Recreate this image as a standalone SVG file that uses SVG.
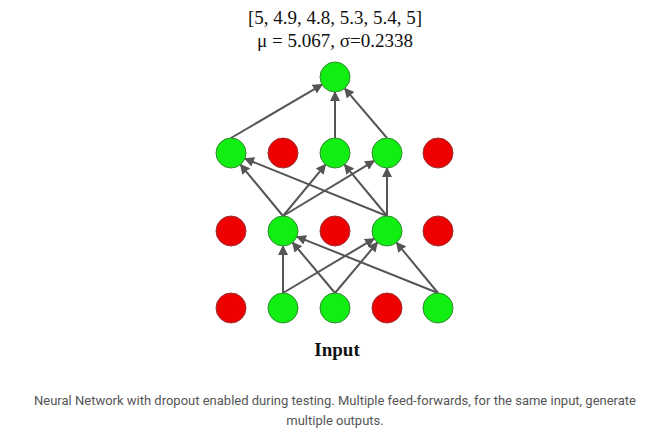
<svg xmlns="http://www.w3.org/2000/svg" width="671" height="435" viewBox="0 0 671 435">
<style>
.g{fill:#11ee11;stroke:#338833;stroke-width:1}
.r{fill:#ee0000;stroke:#993333;stroke-width:1}
.e line{stroke:#555;stroke-width:2;marker-end:url(#a)}
.t{font-family:"Liberation Serif",serif;font-size:19px;fill:#111;text-anchor:middle}
.c{font-family:"Roboto","Liberation Sans",sans-serif;font-size:13px;fill:#555;text-anchor:middle}
</style>
<defs><marker id="a" viewBox="0 0 10 10" refX="9" refY="5" markerWidth="5" markerHeight="5" orient="auto" markerUnits="strokeWidth"><path d="M0,0L10,5L0,10z" fill="#555"/></marker></defs>
<rect width="671" height="435" fill="#fff"/>
<text class="t" x="335" y="24">[5, 4.9, 4.8, 5.3, 5.4, 5]</text>
<text class="t" x="335" y="47">μ = 5.067, σ=0.2338</text>
<g class="e" id="connectors">
<line x1="231" y1="138" x2="322.1" y2="84.6"/>
<line x1="335" y1="138" x2="335" y2="92"/>
<line x1="387" y1="138" x2="344.7" y2="88.4"/>
<line x1="283" y1="216" x2="240.5" y2="164.6"/>
<line x1="283" y1="216" x2="325.5" y2="164.6"/>
<line x1="283" y1="216" x2="374.2" y2="160.8"/>
<line x1="387" y1="216" x2="244.9" y2="158.6"/>
<line x1="387" y1="216" x2="344.5" y2="164.6"/>
<line x1="387" y1="216" x2="387" y2="168"/>
<line x1="283" y1="293" x2="283" y2="246"/>
<line x1="283" y1="293" x2="374.1" y2="238.7"/>
<line x1="335" y1="293" x2="292.6" y2="242.5"/>
<line x1="335" y1="293" x2="377.4" y2="242.5"/>
<line x1="438" y1="293" x2="296.9" y2="236.6"/>
<line x1="438" y1="293" x2="396.5" y2="242.6"/>
</g>
<g id="out"><circle class="g" cx="335" cy="77" r="15"/></g>
<g id="h1a"><circle class="g" cx="231" cy="153" r="15"/></g>
<g id="h1b"><circle class="r" cx="283" cy="153" r="15"/></g>
<g id="h1c"><circle class="g" cx="335" cy="153" r="15"/></g>
<g id="h1d"><circle class="g" cx="387" cy="153" r="15"/></g>
<g id="h1e"><circle class="r" cx="438" cy="153" r="15"/></g>
<g id="h2a"><circle class="r" cx="231" cy="231" r="15"/></g>
<g id="h2b"><circle class="g" cx="283" cy="231" r="15"/></g>
<g id="h2c"><circle class="r" cx="335" cy="231" r="15"/></g>
<g id="h2d"><circle class="g" cx="387" cy="231" r="15"/></g>
<g id="h2e"><circle class="r" cx="438" cy="231" r="15"/></g>
<g id="i1"><circle class="r" cx="231" cy="308" r="15"/></g>
<g id="i2"><circle class="g" cx="283" cy="308" r="15"/></g>
<g id="i3"><circle class="g" cx="335" cy="308" r="15"/></g>
<g id="i4"><circle class="r" cx="387" cy="308" r="15"/></g>
<g id="i5"><circle class="g" cx="438" cy="308" r="15"/></g>
<text class="t" x="337" y="356" font-weight="bold" font-size="18">Input</text>
<text class="c" x="335" y="405">Neural Network with dropout enabled during testing. Multiple feed-forwards, for the same input, generate</text>
<text class="c" x="335" y="425">multiple outputs.</text>
</svg>
